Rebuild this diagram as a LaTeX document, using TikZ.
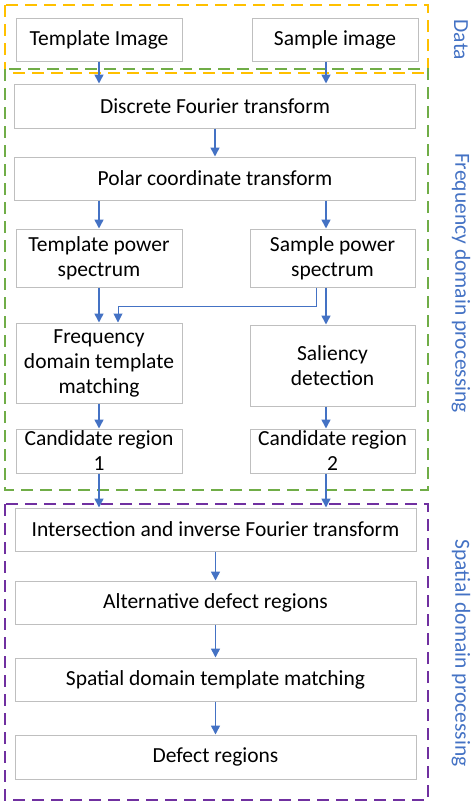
\documentclass[tikz,border=0pt]{standalone}
\usepackage{fontspec}
\setmainfont{Carlito}
\usetikzlibrary{arrows.meta, positioning, calc}

\definecolor{arrblue}{HTML}{4472C4}
\definecolor{datayellow}{HTML}{FFC000}
\definecolor{freqgreen}{HTML}{70AD47}
\definecolor{spatpurple}{HTML}{7030A0}
\definecolor{boxgray}{HTML}{BFBFBF}

\begin{document}
\begin{tikzpicture}[
  x=1pt, y=-1pt, >=Stealth,
  font=\fontsize{21.5}{25}\selectfont,
  stepbox/.style={
    draw=boxgray, fill=white, line width=1pt,
    align=center, inner sep=2pt
  },
  smallbox/.style={stepbox, minimum width=166pt},
  widebox/.style={stepbox, minimum width=401pt, minimum height=43pt},
  secbox/.style={dashed, line width=1.8pt, dash pattern=on 12pt off 7pt},
  seclabel/.style={rotate=-90, text=arrblue, anchor=center},
  myarrow/.style={-{Triangle[length=9pt, width=9pt]}, line width=1.6pt, arrblue},
]
\useasboundingbox (0,0) rectangle (474,803);
% --- Section frames ---
\draw[secbox, draw=datayellow] (5,5) rectangle (428,73);
\draw[secbox, draw=freqgreen] (5,69) rectangle (428,490);
\draw[secbox, draw=spatpurple] (5,504) rectangle (428,800);
\node[seclabel] (ldata) at (461,40) {Data};
\node[seclabel] (lfreq) at (461,283) {Frequency domain processing};
\node[seclabel] (lspat) at (461,653) {Spatial domain processing};
% --- Data ---
\node[smallbox, minimum height=43pt] (timg) at (99,39.5) {Template Image};
\node[smallbox, minimum height=43pt] (simg) at (335,39.5) {Sample image};
\coordinate (rc) at (326,0);
% --- Frequency domain ---
\node[widebox, minimum height=44pt] (dft) at (215,106) {Discrete Fourier transform};
\node[widebox] (polar) at (215,178.5) {Polar coordinate transform};
\node[smallbox, minimum height=58pt] (tps) at (99,258) {Template power\\spectrum};
\node[smallbox, minimum width=165pt, minimum height=58pt] (sps) at (332.5,258) {Sample power\\spectrum};
\node[smallbox, minimum height=80pt] (fdtm) at (99,363) {Frequency\\domain template\\matching};
\node[smallbox, minimum width=165pt, minimum height=81pt] (sal) at (332.5,365.5) {Saliency\\detection};
\node[smallbox, minimum height=44pt, inner ysep=-1pt] (cand1) at (99,451) {Candidate region\\1};
\node[smallbox, minimum width=165pt, minimum height=44pt, inner ysep=-1pt] (cand2) at (332.5,451) {Candidate region\\2};
% --- Spatial domain ---
\node[widebox] (ifft) at (215.5,529.5) {Intersection and inverse Fourier transform};
\node[widebox] (alt) at (215.5,602.5) {Alternative defect regions};
\node[widebox] (sdtm) at (215.5,679.5) {Spatial domain template matching};
\node[widebox, minimum height=44pt] (defect) at (215.5,757) {Defect regions};
% --- Connectors ---
\draw[myarrow] (timg.south) -- (timg.south |- dft.north);
\draw[myarrow] (simg.south -| rc) -- (dft.north -| rc);
\draw[myarrow] (dft.south) -- (polar.north);
\draw[myarrow] (polar.south -| tps.south) -- (tps.north);
\draw[myarrow] (polar.south -| rc) -- (sps.north -| rc);
\draw[myarrow] (tps.south) -- (fdtm.north);
\draw[myarrow, line width=1pt] ([xshift=-16.5pt]sps.south) -- ++(0,19) -| ([xshift=19pt]fdtm.north);
\draw[myarrow] (sps.south -| rc) -- (sal.north -| rc);
\draw[myarrow] (fdtm.south) -- (cand1.north);
\draw[myarrow] (sal.south -| rc) -- (cand2.north -| rc);
\draw[myarrow] (cand1.south) -- (cand1.south |- ifft.north);
\draw[myarrow] (cand2.south -| rc) -- (ifft.north -| rc);
\draw[myarrow] (ifft.south) -- (alt.north);
\draw[myarrow] (alt.south) -- (sdtm.north);
\draw[myarrow] (sdtm.south) -- (defect.north);
\end{tikzpicture}
\end{document}
